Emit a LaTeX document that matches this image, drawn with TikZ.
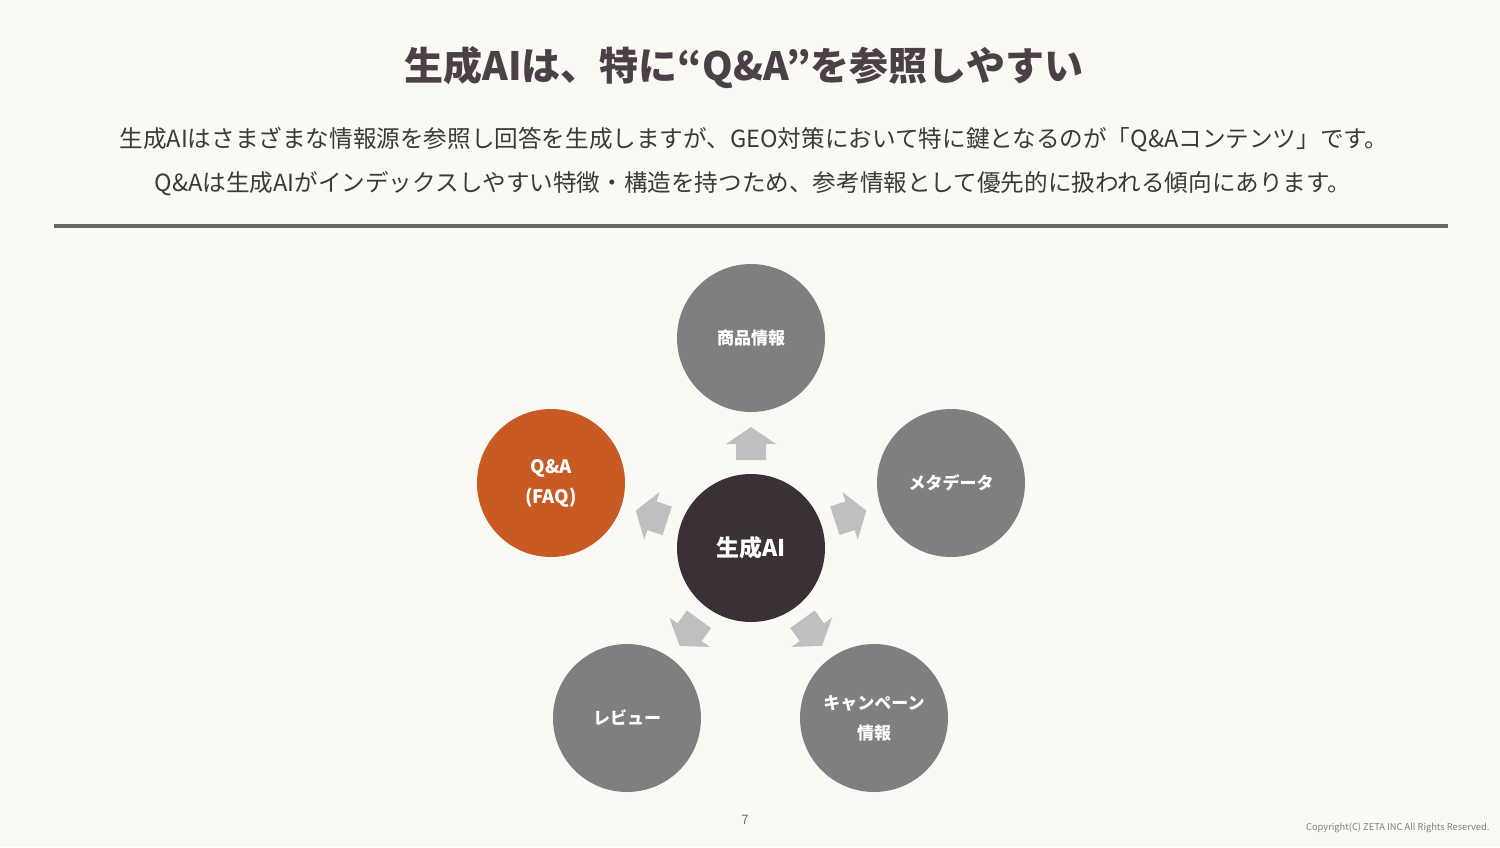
\documentclass[tikz,border=0pt]{standalone}
\usepackage{fontspec}
\setmainfont{Noto Sans CJK JP}
\usetikzlibrary{calc}
\definecolor{bgc}{HTML}{FBF9F4}
\definecolor{titlec}{HTML}{4A4045}
\definecolor{subc}{HTML}{3A3A3A}
\definecolor{rulec}{HTML}{666666}
\definecolor{grayc}{HTML}{7F7F7F}
\definecolor{darkc}{HTML}{3A3035}
\definecolor{orangec}{HTML}{C85A24}
\definecolor{arrowc}{HTML}{BFBFBF}
\tikzset{
  bubble/.style={circle, minimum size=148pt, inner sep=0pt, fill=grayc, text=white, font=\bfseries\fontsize{17}{30}\selectfont, align=center},
  blockarrow/.style={fill=arrowc}
}
\begin{document}
\begin{tikzpicture}[x=1pt,y=-1pt]
\fill[bgc] (0,0) rectangle (1500,847);
\useasboundingbox (0,0) rectangle (1500,847);
\node[text=titlec, font=\bfseries\fontsize{39}{40}\selectfont] (title) at (744,68) {生成AIは、特に“Q\&A”を参照しやすい};
\node[text=subc, font=\fontsize{23.6}{26}\selectfont] (sub1) at (754,139) {生成AIはさまざまな情報源を参照し回答を生成しますが、GEO対策において特に鍵となるのが「Q\&Aコンテンツ」です。};
\node[text=subc, font=\fontsize{23.6}{26}\selectfont] (sub2) at (753,184) {Q\&Aは生成AIがインデックスしやすい特徴・構造を持つため、参考情報として優先的に扱われる傾向にあります。};
\coordinate (rl) at (54,226);
\coordinate (rr) at (1448,226);
\draw[rulec, line width=4pt] (rl) -- (rr);
\node[bubble, fill=darkc, font=\bfseries\fontsize{23}{28}\selectfont] (c) at (751,548) {生成AI};
\node[bubble] (t) at (751,338) {商品情報};
\node[bubble] (m) at (951,483) {メタデータ};
\node[bubble] (k) at (874,718) {キャンペーン\\情報};
\node[bubble] (r) at (627,718) {レビュー};
\node[bubble, fill=orangec, font=\bfseries\fontsize{18.5}{30}\selectfont] (q) at (551,483) {Q\&A\\(FAQ)};
\foreach \n/\a in {t/90,m/18,k/-54,r/-126,q/162}{
  \fill[blockarrow, shift={($(c)!0.5!(\n)$)}, rotate=\a] (-17,-15) -- (-1,-15) -- (-1,-25) -- (16,0) -- (-1,25) -- (-1,15) -- (-17,15) -- cycle;
}
\node[text=grayc!90!black, font=\fontsize{13}{15}\selectfont] (pg) at (745,820) {7};
\node[text=grayc, font=\fontsize{9.3}{11}\selectfont, anchor=east] (copy) at (1493,828) {Copyright(C) ZETA INC All Rights Reserved.};
\end{tikzpicture}
\end{document}
